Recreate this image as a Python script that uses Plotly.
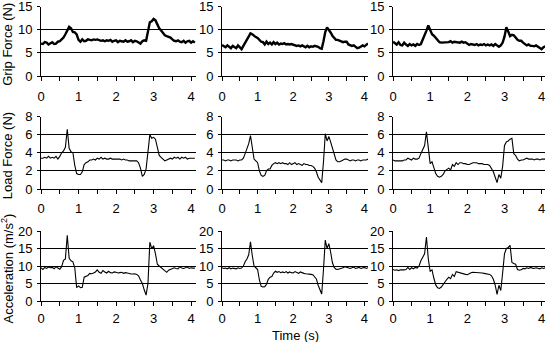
import plotly.graph_objects as go

# sample step of the recordings (s)
DT = 0.05

grip_1 = [7.0,6.9,7.3,7.2,6.8,7.0,7.3,6.9,7.0,7.4,
          7.5,7.9,8.3,9.0,9.8,10.6,10.3,9.5,9.4,9.0,
          7.8,7.4,7.9,7.5,7.6,7.9,7.8,7.7,7.9,7.8,
          7.9,7.7,7.6,7.7,7.5,7.7,7.6,7.8,7.4,7.6,
          7.7,7.3,7.6,7.5,7.4,7.7,7.4,7.5,7.7,7.3,
          7.6,7.5,7.3,7.0,7.5,7.7,7.6,10.0,11.6,11.8,
          12.3,12.0,11.0,10.3,9.8,9.3,8.8,8.6,8.5,8.3,
          7.9,7.6,7.5,7.7,7.4,7.3,7.6,7.2,7.5,7.6,
          7.2,7.5,7.2]
grip_2 = [6.7,6.5,6.2,6.6,6.3,6.0,6.5,6.3,6.0,6.6,
          6.3,5.8,6.5,7.2,7.9,8.6,9.2,9.0,8.6,8.4,
          8.2,7.7,7.4,7.3,6.8,7.4,6.9,7.2,6.8,7.3,
          6.9,7.2,6.8,7.0,6.9,7.1,6.8,6.9,6.8,6.9,
          6.8,6.7,6.5,6.6,6.4,6.6,6.3,6.2,6.5,6.2,
          6.4,6.3,6.5,6.4,6.3,6.0,5.9,7.5,9.5,10.5,
          10.0,9.4,8.7,8.1,7.8,7.8,7.6,7.5,7.3,7.4,
          7.4,6.8,6.7,6.5,6.6,6.3,6.0,6.1,6.4,6.6,
          6.4,6.7,7.0]
grip_3 = [7.4,7.1,6.8,7.3,6.7,6.6,7.2,6.8,6.5,6.9,
          6.6,6.8,6.5,6.9,6.7,6.9,7.8,8.8,9.8,10.9,
          10.0,9.0,8.7,8.3,7.8,7.3,7.2,7.2,7.3,7.2,
          7.3,7.5,7.2,7.4,7.3,7.3,7.2,7.4,7.2,7.3,
          7.0,6.7,6.9,6.8,6.7,6.9,6.6,6.8,6.7,6.9,
          6.6,6.8,6.6,6.8,6.5,6.9,6.5,6.3,6.6,7.2,
          8.5,10.5,9.6,8.6,8.9,8.8,8.3,7.8,7.6,7.6,
          7.2,6.8,6.6,6.8,6.5,6.5,6.4,6.6,6.3,6.1,
          5.8,6.2,6.4]

load_1 = [3.4,3.4,3.5,3.4,3.6,3.4,3.5,3.4,3.6,3.3,
          3.6,4.0,4.2,4.6,6.6,4.5,4.1,4.0,2.6,1.7,
          1.6,1.6,1.9,2.7,2.9,3.0,3.2,3.2,3.3,3.2,
          3.4,3.3,3.5,3.3,3.4,3.3,3.3,3.4,3.3,3.3,
          3.3,3.3,3.3,3.2,3.3,3.2,3.2,3.1,3.1,3.1,
          3.1,3.1,2.9,2.3,1.4,1.6,2.2,4.0,6.0,5.6,
          5.7,5.5,4.4,3.7,3.5,3.3,3.1,3.2,3.3,3.4,
          3.3,3.5,3.4,3.5,3.3,3.5,3.4,3.5,3.3,3.4,
          3.4,3.4,3.4]
load_2 = [3.2,3.2,3.1,3.2,3.2,3.1,3.2,3.2,3.2,3.1,
          3.2,3.2,3.4,3.9,4.4,5.0,5.9,4.8,3.3,3.1,
          2.9,2.0,1.5,1.4,1.5,2.0,2.2,2.2,2.6,2.8,
          2.9,2.8,2.9,2.8,2.9,2.8,2.8,2.7,2.9,2.7,
          2.8,2.9,2.7,2.8,2.7,2.6,2.8,2.7,2.7,2.6,
          2.6,2.5,2.3,1.9,1.3,1.0,0.7,3.0,6.1,5.3,
          5.8,5.2,4.5,3.6,3.2,3.0,3.0,3.1,3.2,3.3,
          3.3,3.2,3.1,3.2,3.2,3.1,3.2,3.2,3.1,3.2,
          3.2,3.2,3.3]
load_3 = [3.2,3.1,3.1,3.1,3.1,3.1,3.2,3.2,3.4,3.3,
          3.2,3.4,3.3,3.3,3.4,3.9,4.3,4.8,6.3,4.2,
          2.8,3.0,2.2,1.7,1.4,1.3,1.4,1.6,2.0,2.2,
          2.3,2.1,2.7,2.5,2.9,2.7,2.9,2.9,2.8,2.8,
          2.7,2.7,2.8,2.9,2.9,2.9,2.8,2.8,2.8,2.7,
          2.7,2.7,2.6,2.3,1.9,1.3,0.7,1.6,1.2,2.5,
          4.8,5.2,5.3,5.5,5.6,3.9,3.7,3.3,3.1,3.2,
          3.2,3.3,3.4,3.3,3.3,3.3,3.2,3.3,3.3,3.2,
          3.3,3.3,3.3]

accel_1 = [9.5,9.0,9.6,9.3,9.7,9.5,9.6,9.2,9.8,9.4,
           9.1,9.8,11.6,12.0,18.8,12.2,11.5,11.2,9.5,3.8,
           4.3,3.8,3.9,6.8,7.0,7.3,7.9,7.8,8.0,8.3,
           8.9,8.2,7.9,8.7,8.3,8.0,8.5,8.1,8.0,8.3,
           8.2,8.0,8.1,8.2,7.9,8.1,8.0,7.8,7.7,7.7,
           7.8,7.6,7.2,6.0,5.0,3.2,1.7,5.0,16.8,15.0,
           15.8,13.5,10.5,10.0,9.5,9.0,8.6,8.2,8.8,9.0,
           9.3,9.5,9.3,9.2,9.8,9.4,9.3,9.6,9.7,9.3,
           9.5,9.4,9.4]
accel_2 = [9.5,9.3,9.4,9.2,9.5,9.2,9.4,9.3,9.2,9.5,
           9.3,9.4,10.0,11.2,12.0,13.2,16.9,13.0,10.0,9.5,
           9.0,6.0,4.2,4.0,4.1,4.8,6.2,6.8,7.0,8.0,
           8.5,8.2,8.4,8.1,8.3,8.1,8.4,8.0,8.3,8.1,
           8.0,8.4,8.2,7.9,8.3,8.0,7.9,7.8,7.8,7.7,
           7.6,7.5,7.0,6.3,4.5,3.0,2.0,9.0,17.4,15.0,
           16.4,14.0,11.0,9.6,9.1,9.0,9.1,9.3,9.5,9.8,
           9.6,9.4,9.3,9.5,9.7,9.3,9.5,9.6,9.3,9.5,
           9.6,9.3,9.5]
accel_3 = [9.0,8.8,8.9,8.7,8.9,8.8,8.9,9.0,9.6,9.0,
           9.5,9.2,9.6,9.4,10.0,11.5,12.5,13.5,18.3,12.0,
           8.5,8.9,6.5,4.6,3.8,3.6,4.0,4.8,5.6,6.2,
           6.8,6.4,7.6,7.0,8.4,8.2,8.0,7.9,7.8,7.6,
           7.5,7.9,8.1,8.2,8.2,8.1,8.2,8.0,8.0,7.9,
           7.8,7.9,7.6,7.2,6.2,4.5,1.9,4.5,3.0,8.0,
           13.5,15.0,15.3,15.9,11.0,10.7,10.5,9.0,8.8,8.9,
           9.3,9.2,9.5,9.3,9.6,9.4,9.3,9.5,9.4,9.2,
           9.5,9.3,9.5]

row_titles = ["Grip Force (N)", "Load Force (N)", "Acceleration (m/s<sup>2</sup>)"]
row_ranges = [[0, 15], [0, 8], [0, 20]]
row_dticks = [5, 2, 5]
x_tickvals = [0, 1, 2, 3, 4]
x_title = "Time (s)"

series = [[grip_1, grip_2, grip_3],
          [load_1, load_2, load_3],
          [accel_1, accel_2, accel_3]]

W, H = 547, 342
# pixel layout
col_px = [(41, 196), (222, 368), (393, 545)]
col_xmax = [4.13, 4.10, 4.09]
row_px = [(6.5, 76), (116.5, 189), (231, 301)]
row_lw = [2.4, 1.1, 1.1]
row_standoff = [4, 3, 1]

FONT = "Liberation Sans, Arial, Helvetica, sans-serif"
fig = go.Figure()
layout = {}
k = 0
for r in range(3):
    for c in range(3):
        k += 1
        xa = "x" if k == 1 else f"x{k}"
        ya = "y" if k == 1 else f"y{k}"
        vals = series[r][c]
        t = [round(i * DT, 2) for i in range(len(vals))]
        fig.add_trace(go.Scatter(x=t, y=vals, mode="lines",
                                 line=dict(color="black", width=row_lw[r]),
                                 xaxis=xa, yaxis=ya, showlegend=False,
                                 hoverinfo="skip"))
        x0, x1 = col_px[c]
        ytop, ybot = row_px[r]
        layout["xaxis" if k == 1 else f"xaxis{k}"] = dict(
            domain=[x0 / W, x1 / W], range=[0, col_xmax[c]], automargin=False,
            anchor=ya, showline=True, linecolor="black", linewidth=1,
            showgrid=False, zeroline=False, ticklabeloverflow="allow",
            tickmode="array", tickvals=x_tickvals,
            ticks="outside", ticklen=4, tickcolor="black", tickwidth=1,
            minor=dict(dtick=0.5, tick0=0, ticks="outside", ticklen=4,
                       tickcolor="black", tickwidth=1, showgrid=False),
            ticklabelstandoff=row_standoff[r],
            tickfont=dict(size=13, color="black", family=FONT),
        )
        layout["yaxis" if k == 1 else f"yaxis{k}"] = dict(
            domain=[1 - ybot / H, 1 - ytop / H], range=row_ranges[r],
            automargin=False, ticklabeloverflow="allow",
            anchor=xa, showline=True, linecolor="black", linewidth=1,
            showgrid=True, gridcolor="black", gridwidth=1, zeroline=False,
            dtick=row_dticks[r], tick0=0,
            ticks="outside", ticklen=3, tickcolor="black", tickwidth=1,
            ticklabelstandoff=2,
            tickfont=dict(size=13, color="black", family=FONT),
        )

annotations = []
for r in range(3):
    ytop, ybot = row_px[r]
    annotations.append(dict(text=row_titles[r], xref="paper", yref="paper",
                            x=7.5 / W, y=1 - ((ytop + ybot) / 2 + 3) / H,
                            xanchor="center", yanchor="middle", textangle=-90,
                            showarrow=False,
                            font=dict(size=13, color="black", family=FONT)))
annotations.append(dict(text=x_title, xref="paper", yref="paper",
                        x=(col_px[1][0] + col_px[1][1]) / 2 / W, y=1 - 335 / H,
                        xanchor="center", yanchor="middle", showarrow=False,
                        font=dict(size=13, color="black", family=FONT)))

fig.update_layout(width=W, height=H,
                  margin=dict(l=0, r=0, t=0, b=0, pad=0, autoexpand=False),
                  paper_bgcolor="white", plot_bgcolor="white",
                  annotations=annotations, hovermode=False,
                  font=dict(family=FONT, color="black", size=13), **layout)
fig.write_html("out.html", config={"displayModeBar": False},
               post_script="document.body.style.margin='0px';"
                           "document.body.style.overflow='hidden';")
